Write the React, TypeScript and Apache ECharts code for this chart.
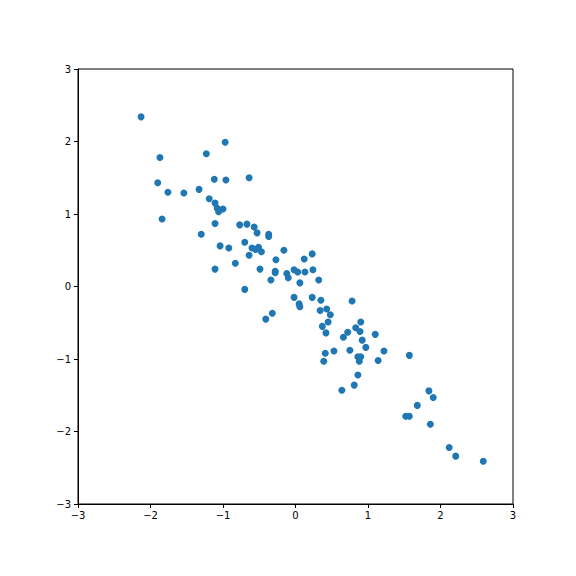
import React, { useEffect, useRef } from 'react'
import * as echarts from 'echarts'

// scatter values
const xValues = [
  -2.13, -0.97, -1.87, -1.23, -1.9, -1.12, -0.96, -0.64, -1.76, -1.54,
  -1.33, -1.19, -1.11, -1.08, -1.06, -1.0, -1.84, -1.11, -1.3, -0.77,
  -0.67, -0.57, -0.53, -0.37, -0.37, -0.7, -1.04, -0.92, -0.6, -0.55,
  -0.51, -0.47, -0.64, -0.16, -0.27, -0.83, -0.49, -0.28, -0.34, -1.11,
  -0.12, -0.1, -0.02, 0.03, 0.13, 0.12, 0.23, 0.24, 0.06, 0.32,
  -0.7, -0.02, 0.05, 0.06, 0.23, 0.35, 0.78, 0.34, 0.43, 0.48,
  0.45, 0.37, 0.42, -0.32, -0.41, 0.9, 0.83, 0.89, 0.72, 0.66,
  1.1, 0.92, 0.97, 0.75, 0.53, 0.41, 0.39, 0.86, 0.9, 0.88,
  1.14, 1.22, 1.57, 0.86, 0.81, 0.64, 1.84, 1.9, 1.68, 1.52,
  1.57, 1.86, 2.12, 2.21, 2.59, -0.28,
]
const yValues = [
  2.34, 1.99, 1.78, 1.83, 1.43, 1.48, 1.47, 1.5, 1.3, 1.29,
  1.34, 1.21, 1.15, 1.08, 1.03, 1.07, 0.93, 0.87, 0.72, 0.85,
  0.86, 0.82, 0.74, 0.72, 0.69, 0.61, 0.56, 0.53, 0.53, 0.51,
  0.54, 0.48, 0.43, 0.5, 0.37, 0.32, 0.24, 0.21, 0.09, 0.24,
  0.18, 0.12, 0.23, 0.2, 0.2, 0.38, 0.45, 0.23, 0.05, 0.09,
  -0.04, -0.15, -0.24, -0.28, -0.15, -0.19, -0.2, -0.33, -0.31, -0.39,
  -0.49, -0.55, -0.64, -0.37, -0.45, -0.49, -0.57, -0.62, -0.63, -0.7,
  -0.66, -0.74, -0.84, -0.88, -0.89, -0.92, -1.03, -0.97, -0.97, -1.03,
  -1.02, -0.89, -0.95, -1.22, -1.36, -1.43, -1.44, -1.53, -1.64, -1.79,
  -1.79, -1.9, -2.22, -2.34, -2.41, 0.19,
]
const axisMin = -3
const axisMax = 3

const fmt = (v: number) => String(v).replace('-', '\u2212')

const App: React.FC = () => {
  const chartRef = useRef<HTMLDivElement>(null)

  useEffect(() => {
    if (!chartRef.current) return
    const chart = echarts.init(chartRef.current, undefined, { renderer: 'svg' })

    const axisCommon = {
      type: 'value' as const,
      min: axisMin,
      max: axisMax,
      interval: 1,
      splitLine: { show: false },
      axisLine: { show: true, onZero: false, lineStyle: { color: '#000', width: 1 } },
      axisTick: { show: true, inside: false, length: 4, lineStyle: { color: '#000', width: 1 } },
    }

    chart.setOption({
      animation: false,
      backgroundColor: '#fff',
      grid: {
        left: 78,
        top: 69,
        width: 435,
        height: 435,
        show: true,
        borderColor: '#000',
        borderWidth: 1,
        backgroundColor: 'transparent',
      },
      xAxis: {
        ...axisCommon,
        axisLabel: {
          margin: 6,
          color: '#000',
          fontSize: 10,
          fontFamily: 'DejaVu Sans',
          formatter: fmt,
        },
      },
      yAxis: {
        ...axisCommon,
        axisLabel: {
          margin: 7,
          color: '#000',
          fontSize: 10,
          fontFamily: 'DejaVu Sans',
          formatter: fmt,
        },
      },
      series: [
        {
          type: 'scatter',
          data: xValues.map((x, i) => [x, yValues[i]]),
          symbol: 'circle',
          symbolSize: 7,
          itemStyle: { color: '#1f77b4', opacity: 1 },
        },
      ],
    })

    return () => {
      chart.dispose()
    }
  }, [])

  return (
    <div
      ref={chartRef}
      style={{ position: 'fixed', left: 0, top: 0, width: 576, height: 576 }}
    />
  )
}

export default App
